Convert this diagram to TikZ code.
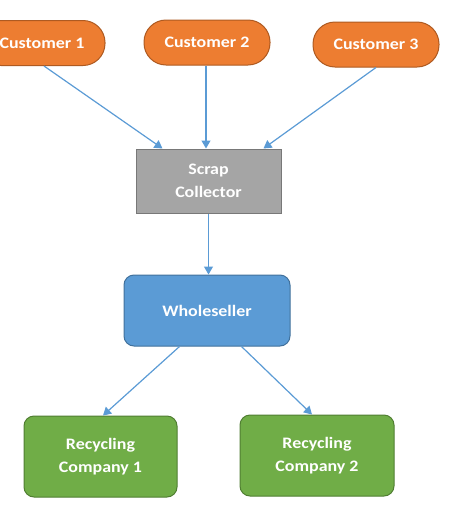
\documentclass[tikz,border=0pt]{standalone}
\usepackage{fontspec}
\setmainfont{Carlito}[FakeStretch=1.12]
\usetikzlibrary{arrows.meta}
\definecolor{orfill}{HTML}{ED7D31}
\definecolor{ordraw}{HTML}{AE5A21}
\definecolor{gyfill}{HTML}{A5A5A5}
\definecolor{gydraw}{HTML}{787878}
\definecolor{blfill}{HTML}{5B9BD5}
\definecolor{bldraw}{HTML}{41719C}
\definecolor{grfill}{HTML}{70AD47}
\definecolor{grdraw}{HTML}{507E32}
\definecolor{arr}{HTML}{5B9BD5}
\tikzset{
  box/.style={font=\fontsize{16}{23}\selectfont\bfseries, text=white, align=center, line width=1pt, inner sep=0pt},
  cust/.style={box, fill=orfill, draw=ordraw, rounded corners=22pt, minimum width=126pt, minimum height=45pt},
  scrap/.style={box, fill=gyfill, draw=gydraw, minimum width=145pt, minimum height=64pt},
  whole/.style={box, fill=blfill, draw=bldraw, rounded corners=10pt, minimum width=166pt, minimum height=71pt},
  recy/.style={box, fill=grfill, draw=grdraw, rounded corners=10pt, minimum width=153pt, minimum height=81pt},
  flow/.style={draw=arr, line width=1.2pt, -{Triangle[length=8pt,width=9pt]}}
}
\begin{document}
\begin{tikzpicture}[x=1pt,y=-1pt]
\useasboundingbox (0,0) rectangle (474,520);
\node[cust] (c1) at (42,43) {Customer 1};
\node[cust] (c2) at (207,42.5) {Customer 2};
\node[cust] (c3) at (376,44.5) {Customer 3};
\node[scrap] (sc) at (208.5,181) {Scrap\\Collector};
\node[whole] (wh) at (207,310.5) {Wholeseller};
\node[recy] (r1) at (100.5,456.5) {Recycling\\Company 1};
\node[recy, minimum width=154pt] (r2) at (317,455.5) {Recycling\\Company 2};
\draw[flow] ([xshift=2pt]c1.south) -- ([xshift=27pt]sc.north west);
\draw[flow] ([xshift=-1pt]c2.south) -- ([xshift=-2.5pt]sc.north);
\draw[flow] (c3.south) -- ([xshift=-18pt]sc.north east);
\draw[flow] (sc.south) -- (sc.south |- wh.north);
\draw[flow] ([xshift=56pt]wh.south west) -- ([xshift=2.5pt]r1.north);
\draw[flow] ([xshift=-49pt]wh.south east) -- ([xshift=-5pt]r2.north);
\end{tikzpicture}
\end{document}
